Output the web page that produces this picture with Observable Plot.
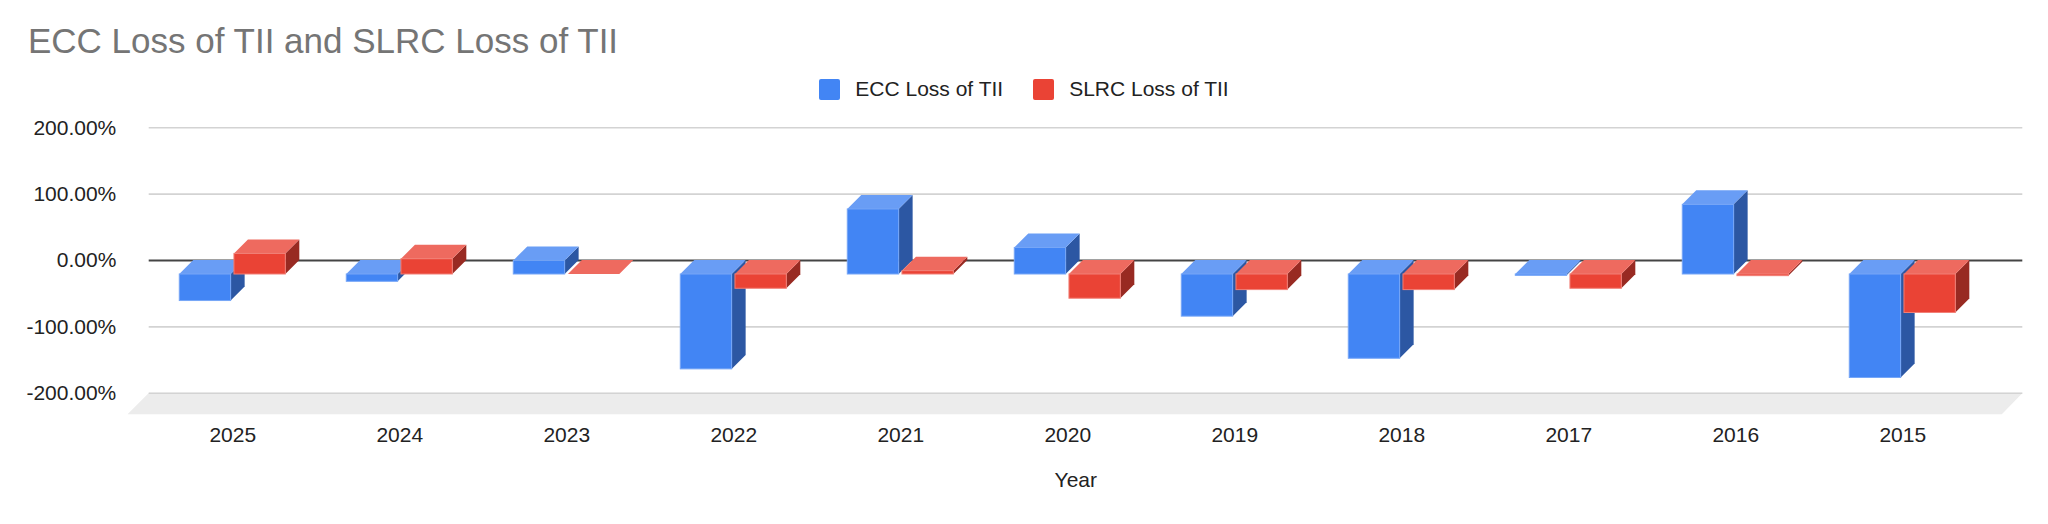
<!DOCTYPE html>
<html>
<head>
<meta charset="utf-8">
<script src="https://cdn.jsdelivr.net/npm/d3@7"></script>
<script src="https://cdn.jsdelivr.net/npm/@observablehq/plot@0.6"></script>
<style>
  html, body { margin: 0; padding: 0; background: #fff; }
  body { width: 2048px; height: 524px; overflow: hidden; font-family: "Liberation Sans", Arial, sans-serif; }
  #title { height: 62px; padding: 10px 0 0 28px; font-size: 35px; line-height: 62px; color: #757575; white-space: nowrap; }
  #legend { height: 34px; display: flex; justify-content: center; align-items: center; font-size: 21px; color: #222; }
  .item { display: flex; align-items: center; line-height: 24px; }
  .item + .item { margin-left: 30px; }
  .swatch { width: 21px; height: 21px; border-radius: 2px; margin-right: 15px; }
  #chart svg { display: block; }
</style>
</head>
<body>
<div id="title"></div>
<div id="legend"></div>
<div id="chart"></div>
<script>
// Loss of TII per year, in percent
const years = ["2025", "2024", "2023", "2022", "2021", "2020", "2019", "2018", "2017", "2016", "2015"];
const eccLoss = [-40, -11, 20.5, -143, 98, 40, -63.5, -127, -2, 105, -156];
const slrcLoss = [31, 23, 0, -21.5, 5, -36.5, -23.5, -23.5, -21.5, -2.5, -58];
const seriesNames = ["ECC Loss of TII", "SLRC Loss of TII"];
const yTicks = [-200, -100, 0, 100, 200];
const titleText = "ECC Loss of TII and SLRC Loss of TII";
const xLabel = "Year";

// face colours for each series: front, lit top, shaded side, front edge
const palette = [
  {front: "#4285f4", top: "#699df5", side: "#2c57a3", edge: "#76a6f7"},
  {front: "#ea4335", top: "#ee6a5f", side: "#982a22", edge: "#f17f76"}
];
const seriesValues = [eccLoss, slrcLoss];

const DEPTH = 14;          // extrusion of the 3D boxes, px
const BAR = 0.3076;        // bar width as a share of the band
const GAP = 0.0198;        // gap between the two bars of a year

document.getElementById("title").textContent = titleText;
const legend = d3.select("#legend");
seriesNames.forEach((name, i) => {
  const item = legend.append("div").attr("class", "item");
  item.append("div").attr("class", "swatch").style("background", palette[i].front);
  item.append("span").text(name);
});

const pts = (a) => a.map((p) => p.join(",")).join(" ");

// grey floor of the 3D box under the lowest gridline
function floor(index, scales, values, dims) {
  const yb = scales.y(-200);
  const L = dims.marginLeft, R = dims.width - dims.marginRight;
  const g = d3.create("svg:g");
  g.append("polygon")
    .attr("points", pts([[L + 0.2, yb - DEPTH], [R + 37, yb - DEPTH], [R + 16, yb + 7.6], [L - 21.3, yb + 7.6]]))
    .attr("fill", "#ececec");
  return g.node();
}

// extruded bars: side, top and front face per value
function bars3d(index, scales, values, dims) {
  const x = scales.x, y = scales.y;
  const bw = x.bandwidth();
  const start = (1 - 2 * BAR - GAP) / 2;
  const g = d3.create("svg:g");
  years.forEach((yr, i) => {
    seriesValues.forEach((vals, j) => {
      const c = palette[j];
      const l = x(yr) + bw * (start + j * (BAR + GAP));
      const r = l + bw * BAR;
      const y0 = y(0), y1 = y(vals[i]);
      const t = Math.min(y0, y1), b = Math.max(y0, y1);
      g.append("polygon")
        .attr("points", pts([[r, t], [r + DEPTH, t - DEPTH], [r + DEPTH, b - DEPTH], [r, b]]))
        .attr("fill", c.side);
      g.append("polygon")
        .attr("points", pts([[l, t], [r, t], [r + DEPTH, t - DEPTH], [l + DEPTH, t - DEPTH]]))
        .attr("fill", c.top);
      if (b - t > 0.4) {
        g.append("rect")
          .attr("x", l).attr("y", t)
          .attr("width", r - l).attr("height", b - t)
          .attr("fill", c.front)
          .attr("stroke", c.edge).attr("stroke-width", 1);
      }
    });
  });
  return g.node();
}

const chart = Plot.plot({
  width: 2048,
  height: 418,
  marginLeft: 148.8,
  marginRight: 62.2,
  marginTop: 35.3,
  marginBottom: 117.3,
  style: {fontFamily: "'Liberation Sans', Arial, sans-serif", fontSize: "21px", color: "#222", background: "#fff", overflow: "visible"},
  x: {type: "band", domain: years, padding: 0, round: false},
  y: {domain: [-200, 200]},
  marks: [
    floor,
    Plot.ruleY(yTicks.filter((d) => d !== 0), {dx: DEPTH, dy: -DEPTH, insetLeft: -14.1, insetRight: -22.5, stroke: "#d3d3d3", strokeWidth: 1.6}),
    Plot.ruleY([0], {dx: DEPTH, dy: -DEPTH, insetLeft: -14.1, insetRight: -22.5, stroke: "#444", strokeWidth: 1.8}),
    Plot.axisY({ticks: yTicks, tickFormat: (d) => `${d.toFixed(2)}%`, tickSize: 0, tickPadding: 33, dy: -DEPTH, fontSize: 21, label: null}),
    Plot.axisX({tickSize: 0, tickPadding: 20, fontSize: 21, label: null}),
    bars3d,
    Plot.text([xLabel], {text: (d) => d, frameAnchor: "bottom", dx: 8, dy: 80, fontSize: 21})
  ]
});
document.getElementById("chart").append(chart);
</script>
</body>
</html>
